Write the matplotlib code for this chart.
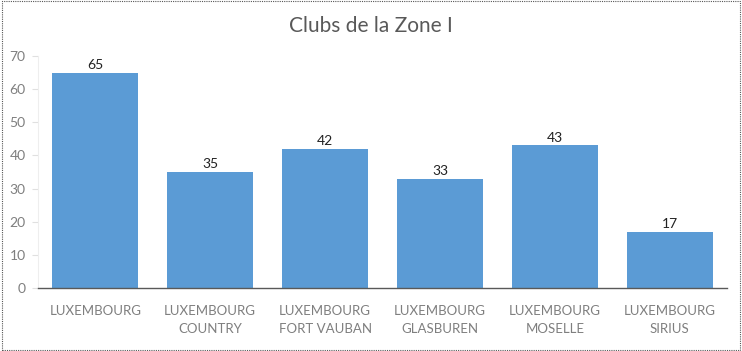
import matplotlib
matplotlib.use("Agg")
import matplotlib.pyplot as plt
from matplotlib.patches import Rectangle

# Data
categories = ["LUXEMBOURG", "LUXEMBOURG\nCOUNTRY", "LUXEMBOURG\nFORT VAUBAN",
              "LUXEMBOURG\nGLASBUREN", "LUXEMBOURG\nMOSELLE", "LUXEMBOURG\nSIRIUS"]
values = [65, 35, 42, 33, 43, 17]
y_ticks = [0, 10, 20, 30, 40, 50, 60, 70]

plt.rcParams['font.family'] = ['Lato', 'DejaVu Sans']

fig = plt.figure(figsize=(7.42, 3.51), dpi=100)
ax = fig.add_axes([0.0512, 0.1795, 0.9286, 0.661])

x = range(len(categories))
bars = ax.bar(x, values, width=0.75, color="#5B9BD5")
for b, v in zip(bars, values):
    ax.text(b.get_x() + b.get_width() / 2, v + 0.5, str(v), ha="center", va="bottom",
            fontsize=10, color="#222222")

ax.set_xlim(-0.5, len(categories) - 0.5)
ax.set_ylim(0, 70)
ax.set_yticks(y_ticks)
ax.set_xticks(list(x))
ax.set_xticklabels(categories, fontsize=9.5, color="#7f7f7f", linespacing=1.65)
ax.tick_params(axis="y", labelsize=10, colors="#7f7f7f", length=4, color="#e0e0e0", pad=5)
ax.tick_params(axis="x", length=0, pad=12)

for s in ["top", "right"]:
    ax.spines[s].set_visible(False)
ax.spines["left"].set_color("#eeeeee")
ax.spines["bottom"].set_color("#595959")
ax.spines["bottom"].set_linewidth(1.0)

fig.text(0.5, 0.925, "Clubs de la Zone I", ha="center", va="center",
         fontsize=15, color="#595959")

# dotted border around the figure
fig.patches.append(Rectangle((0.003, 0.004), 0.994, 0.992, transform=fig.transFigure,
                             fill=False, edgecolor="#555555", linestyle=(0, (1, 1)),
                             linewidth=0.8))

fig.savefig("out.png", dpi=100)
